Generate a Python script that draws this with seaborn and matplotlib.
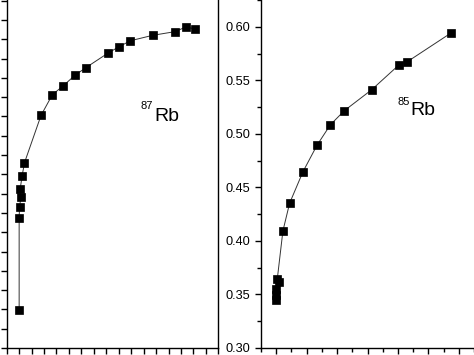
import numpy as np
import seaborn as sns
import matplotlib.pyplot as plt
from matplotlib.ticker import MultipleLocator, FormatStrFormatter

# 87Rb (left panel)
x87 = [0, 0, 0.03, 0.14, 0.08, 0.24, 0.43, 1.76, 2.67, 3.55, 4.48, 5.36,
       7.15, 8.0, 8.94, 10.72, 12.51, 13.39, 14.14]
y87 = [0.3394, 0.435, 0.4458, 0.4565, 0.4645, 0.4786, 0.492, 0.5411, 0.5625,
       0.5718, 0.5826, 0.5905, 0.6057, 0.612, 0.6184, 0.624, 0.6278, 0.6326, 0.6306]

# 85Rb (right panel)
x85 = [0, 0, 0, 0.18, 0.07, 0.44, 0.88, 1.76, 2.69, 3.56, 4.47, 6.27, 8.07, 8.60, 11.5]
y85 = [0.3445, 0.3497, 0.355, 0.3613, 0.3644, 0.4094, 0.4353, 0.4648, 0.4897,
       0.5086, 0.5217, 0.5413, 0.5646, 0.5674, 0.5945]

sns.set_style('ticks', {'axes.edgecolor': 'black', 'xtick.color': 'black',
                        'ytick.color': 'black', 'text.color': 'black'})
plt.rcParams['font.family'] = ['Liberation Sans', 'DejaVu Sans']
plt.rcParams['axes.linewidth'] = 1.0

fig = plt.figure(figsize=(4.74, 3.55), dpi=100)
ax1 = fig.add_axes([6.7 / 474, 7 / 355, (218.3 - 6.7) / 474, 348 / 355])
ax2 = fig.add_axes([261 / 474, 7 / 355, 1 - 261 / 474, 348 / 355])

for ax, xs, ys in [(ax1, x87, y87), (ax2, x85, y85)]:
    sns.lineplot(x=xs, y=ys, ax=ax, sort=False, estimator=None, color='#333333',
                 linewidth=0.7, marker='s', markersize=5.2, markerfacecolor='black',
                 markeredgecolor='black', markeredgewidth=0.5)
    ax.spines['top'].set_visible(False)
    ax.tick_params(which='both', direction='out', color='black', labelcolor='black', width=1.0)
    ax.tick_params(which='major', length=4.5)
    ax.tick_params(which='minor', length=2.8)
    ax.tick_params(axis='x', labelbottom=False)

# left panel
ax1.set_xlim(-1, 16)
ax1.set_ylim(0.30, 0.30 + 348 / 19.3 * 0.02)
ax1.xaxis.set_major_locator(MultipleLocator(1))
ax1.yaxis.set_major_locator(MultipleLocator(0.02))
ax1.tick_params(axis='y', labelleft=False)
ax1.text(10.83, 0.5355, 'Rb', fontsize=14, va='baseline', ha='left', color='black')
ax1.text(10.77, 0.5456, '87', fontsize=8, va='bottom', ha='right', color='black')

# right panel
ax2.spines['right'].set_visible(False)
ax2.set_xlim(-1, 13)
ax2.set_ylim(0.30, 0.30 + 348 / 53.5 * 0.05)
ax2.xaxis.set_major_locator(MultipleLocator(2))
ax2.xaxis.set_minor_locator(MultipleLocator(1))
ax2.yaxis.set_major_locator(MultipleLocator(0.05))
ax2.yaxis.set_minor_locator(MultipleLocator(0.025))
ax2.yaxis.set_major_formatter(FormatStrFormatter('%.2f'))
ax2.tick_params(axis='y', labelsize=9.2, pad=3)
ax2.text(8.80, 0.5178, 'Rb', fontsize=14, va='baseline', ha='left', color='black')
ax2.text(8.76, 0.5255, '85', fontsize=8, va='bottom', ha='right', color='black')

plt.savefig('out.png', dpi=100)
plt.close()
